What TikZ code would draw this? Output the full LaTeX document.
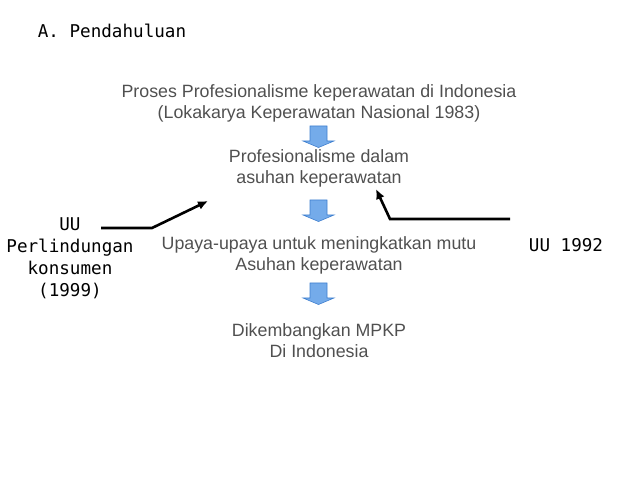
\documentclass[tikz,border=0pt]{standalone}
\usepackage{fontspec}
\usetikzlibrary{arrows.meta}
\setmainfont{Liberation Sans}
\newfontfamily\monofont{DejaVu Sans Mono}
\definecolor{txtgray}{HTML}{505050}
\definecolor{arrfill}{HTML}{74ABEA}
\definecolor{arrline}{HTML}{3F7FCF}
\tikzset{
  body/.style={text=txtgray, font=\fontsize{17.8}{21}\selectfont, align=center, inner sep=0pt},
  mono/.style={font=\monofont\fontsize{17.6}{22}\selectfont, align=center, inner sep=0pt},
  link/.style={line width=2.6pt, -{Latex[length=10pt,width=9pt]}},
  blockarrow/.style={fill=arrfill, draw=arrline, line width=0.6pt, line join=miter}
}
\begin{document}
\begin{tikzpicture}[x=1pt,y=-1pt]
  \useasboundingbox (0,0) rectangle (638,478);
  \node[mono] at (112,31) (judul) {A. Pendahuluan};
  \node[body] at (319,103) (proses) {Proses Profesionalisme keperawatan di Indonesia\\(Lokakarya Keperawatan Nasional 1983)};
  \node[body] at (319,168.5) (prof) {Profesionalisme dalam\\asuhan keperawatan};
  \node[body] at (319,255) (upaya) {Upaya-upaya untuk meningkatkan mutu\\Asuhan keperawatan};
  \node[body] at (319,341) (mpkp) {Dikembangkan MPKP\\Di Indonesia};
  \node[mono] at (70,258) (uukons) {UU\\Perlindungan\\konsumen\\(1999)};
  \node[mono] at (566,245) (uu92) {UU 1992};
  % panah blok
  \foreach \t in {126,200,283} {
    \draw[blockarrow] (310,\t) -- (327,\t) -- (327,\t+15) -- (334,\t+15)
      -- (318.5,\t+21.5) -- (303,\t+15) -- (310,\t+15) -- cycle;
  }
  \coordinate (kiri0) at (101,228);
  \coordinate (kiri1) at (152,228);
  \coordinate (kiri2) at (208,201);
  \coordinate (kanan0) at (510,219);
  \coordinate (kanan1) at (390,219);
  \coordinate (kanan2) at (376,189);
  \draw[link] (kiri0) -- (kiri1) -- (kiri2);
  \draw[link] (kanan0) -- (kanan1) -- (kanan2);
\end{tikzpicture}
\end{document}
